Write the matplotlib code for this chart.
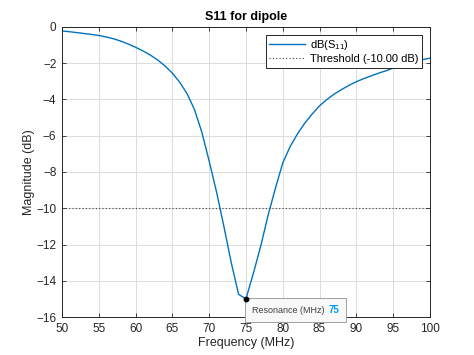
import matplotlib
matplotlib.use("Agg")
import matplotlib.pyplot as plt
from matplotlib.offsetbox import TextArea, HPacker, AnnotationBbox

plt.rcParams['font.family'] = ['Liberation Sans', 'DejaVu Sans']
plt.rcParams['mathtext.fontset'] = 'custom'
plt.rcParams['mathtext.rm'] = 'Liberation Sans'
plt.rcParams['mathtext.it'] = 'Liberation Sans'

# frequency sweep (MHz) and reflection coefficient in dB
freq = [50, 51, 52, 53, 54, 55, 56, 57, 58, 59,
        60, 61, 62, 63, 64, 65, 66, 67, 68, 69,
        70, 71, 72, 73, 74, 75, 76, 77, 78, 79,
        80, 81, 82, 83, 84, 85, 86, 87, 88, 89,
        90, 91, 92, 93, 94, 95, 96, 97, 98, 99, 100]
s11_db = [-0.22, -0.26, -0.31, -0.36, -0.41, -0.47, -0.55, -0.65, -0.78, -0.94,
          -1.12, -1.32, -1.55, -1.82, -2.15, -2.55, -3.05, -3.68, -4.55, -5.8,
          -7.4, -9.1, -11.0, -13.0, -14.75, -15.0, -13.6, -12.1, -10.4, -8.9,
          -7.5, -6.6, -5.9, -5.3, -4.8, -4.35, -4.0, -3.7, -3.45, -3.22,
          -3.02, -2.85, -2.7, -2.55, -2.42, -2.27, -2.12, -2.0, -1.9, -1.8, -1.72]
threshold = -10.0
resonance = 75
resonance_db = -15.0

fig = plt.figure(figsize=(4.74, 3.55), dpi=100)
ax = fig.add_axes([0.1308, 0.107, 0.907 - 0.1308, 0.924 - 0.107])

axcol = '#262626'
ax.plot(freq, s11_db, color='#0072BD', lw=1.0, label=r'dB(S$_{11}$)')
ax.axhline(threshold, color='#404040', lw=0.8, ls=(0, (1, 2)),
           label='Threshold (%.2f dB)' % threshold)
ax.plot([resonance], [resonance_db], 'o', color='k', ms=3.2, zorder=8,
        clip_on=False)

ax.set_xlim(50, 100)
ax.set_ylim(-16, 0)
ax.set_xticks(range(50, 101, 5))
ax.set_yticks(range(-16, 1, 2))
ax.grid(True, color='#dcdcdc', lw=0.7)
ax.set_axisbelow(True)
ax.tick_params(direction='in', length=3, width=0.6, labelsize=8.5,
               colors=axcol, top=True, right=True)
ax.tick_params(axis='x', pad=4)
ax.tick_params(axis='y', pad=4)
for sp in ax.spines.values():
    sp.set_color(axcol)
    sp.set_linewidth(0.7)

ax.set_xlabel('Frequency (MHz)', fontsize=9, color=axcol, labelpad=2)
ax.set_ylabel('Magnitude (dB)', fontsize=9, color=axcol, labelpad=1)
ax.set_title('S11 for dipole', fontsize=9, fontweight='bold', pad=5)

leg = ax.legend(loc='upper right', fontsize=8, fancybox=False, framealpha=1,
                edgecolor='#262626', handlelength=3.2, borderpad=0.3,
                labelspacing=0.2, borderaxespad=0.7, handletextpad=0.5)
leg.get_frame().set_linewidth(0.7)

# data tip
ta1 = TextArea('Resonance (MHz)', textprops=dict(fontsize=6.5, color='#404040'))
ta2 = TextArea('%d' % resonance, textprops=dict(fontsize=7, color='#0099FF',
                                                fontweight='bold'))
pack = HPacker(children=[ta1, ta2], align='baseline', pad=0, sep=3)
ab = AnnotationBbox(pack, (resonance, resonance_db), xybox=(4.4, -4.4),
                    xycoords='data', boxcoords='offset points',
                    box_alignment=(0, 1), frameon=True, pad=0.5,
                    bboxprops=dict(boxstyle='square,pad=0.5', fc='#f8f8f8',
                                   ec='#a0a0a0', lw=0.7))
ab.set_clip_on(False)
ab.set_zorder(6)
ax.add_artist(ab)

fig.savefig('out.png', dpi=100)
